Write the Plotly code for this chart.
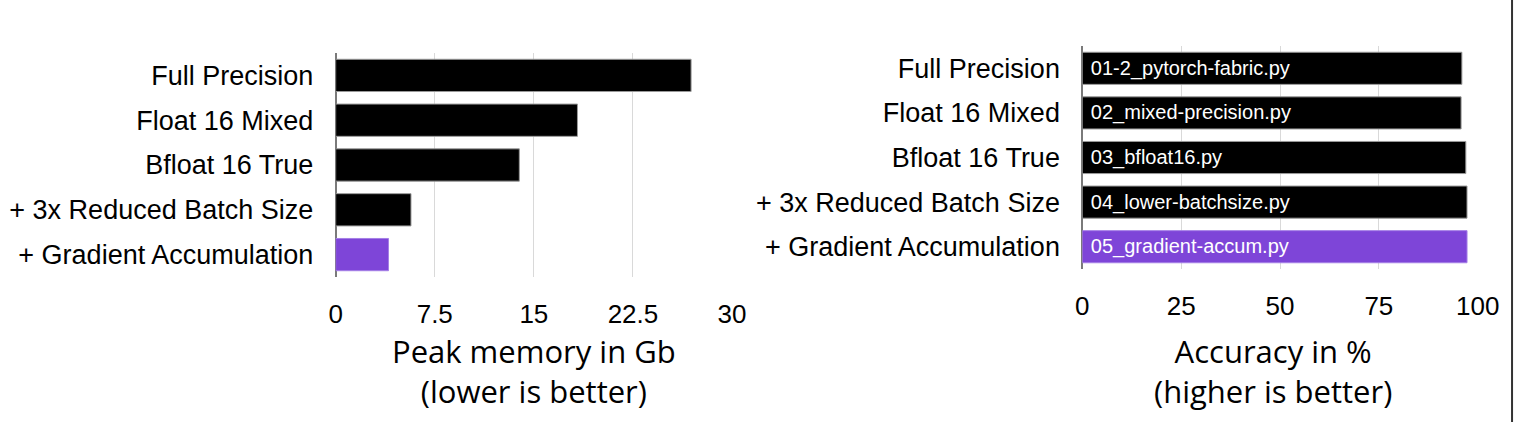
import plotly.graph_objects as go
from plotly.subplots import make_subplots

# data
methods = ["Full Precision", "Float 16 Mixed", "Bfloat 16 True",
           "+ 3x Reduced Batch Size", "+ Gradient Accumulation"]
peak_memory_gb = [26.9, 18.3, 13.9, 5.7, 4.0]
accuracy_pct = [96.0, 95.8, 97.0, 97.3, 97.3]
scripts = ["01-2_pytorch-fabric.py", "02_mixed-precision.py", "03_bfloat16.py",
           "04_lower-batchsize.py", "05_gradient-accum.py"]

mem_ticks = [0, 7.5, 15, 22.5, 30]
acc_ticks = [0, 25, 50, 75, 100]

black = "#000000"
purple = "#7e45d8"
bar_colors = [black, black, black, black, purple]
edge_colors = ["#9a9a9a", "#9a9a9a", "#9a9a9a", "#9a9a9a", "#a57fe6"]

label_font = dict(family="Liberation Sans, Arial, sans-serif", size=27, color="black")
tick_font = dict(family="Liberation Sans, Arial, sans-serif", size=26, color="black")
title_font = dict(family="Open Sans, sans-serif", size=31, color="black")

W, H = 1536, 422

fig = make_subplots(rows=1, cols=2)

fig.add_trace(go.Bar(
    y=methods, x=peak_memory_gb, orientation="h",
    marker=dict(color=bar_colors, line=dict(color=edge_colors, width=1)),
    hoverinfo="x+y", showlegend=False,
), row=1, col=1)

fig.add_trace(go.Bar(
    y=methods, x=accuracy_pct, orientation="h",
    text=["\u00a0" + s for s in scripts],
    textposition="inside", insidetextanchor="start",
    textfont=dict(family="Liberation Sans, Arial, sans-serif", size=20, color="white"),
    marker=dict(color=bar_colors, line=dict(color=edge_colors, width=1)),
    hoverinfo="x+y", showlegend=False,
), row=1, col=2)

xcommon = dict(showgrid=True, gridcolor="#d9d9d9", gridwidth=1,
               zeroline=True, zerolinecolor="#7a7a7a", zerolinewidth=1.5,
               ticks="outside", ticklen=14, tickcolor="rgba(0,0,0,0)",
               tickfont=tick_font, showline=False, fixedrange=True)
ycommon = dict(autorange="reversed", showgrid=False, ticks="outside", ticklen=16,
               tickcolor="rgba(0,0,0,0)", tickfont=label_font, fixedrange=True)

fig.update_layout(
    width=W, height=H,
    margin=dict(l=0, r=0, t=0, b=0),
    paper_bgcolor="white", plot_bgcolor="white",
    bargap=0.28,
    xaxis=dict(domain=[335 / W, 739 / W], range=[0, 30],
               tickvals=mem_ticks, ticktext=[str(t) for t in mem_ticks], **xcommon),
    yaxis=dict(domain=[1 - 277 / H, 1 - 53 / H], **ycommon),
    xaxis2=dict(domain=[1096 / W, 1499 / W], range=[0, 100],
                tickvals=acc_ticks, **xcommon),
    yaxis2=dict(domain=[1 - 269 / H, 1 - 46 / H], **ycommon),
)

# two-line axis titles under each panel
titles = [
    (537 / W, "Peak memory in Gb<br>(lower is better)"),
    (1290 / W, "Accuracy in %<br>(higher is better)"),
]
for xc, txt in titles:
    fig.add_annotation(x=xc, y=1 - 371 / H, xref="paper", yref="paper",
                       text=txt, showarrow=False, font=title_font,
                       xanchor="center", yanchor="middle", align="center")

# dark border line along the right edge
fig.add_shape(type="line", xref="paper", yref="paper",
              x0=1534 / W, x1=1534 / W, y0=0, y1=1,
              line=dict(color="#333333", width=2))

# no page margin, so the figure sits flush in the window
fig.write_html("out.html", config={"displayModeBar": False},
               post_script="document.body.style.margin='0';")
